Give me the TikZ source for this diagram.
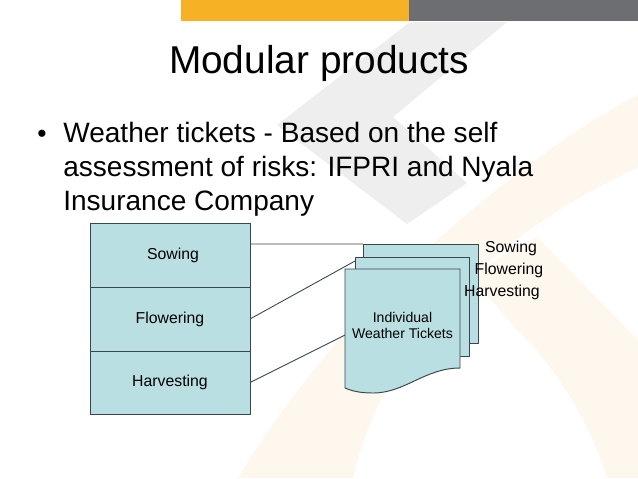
\documentclass[tikz,border=0pt]{standalone}
\usepackage{fontspec}
\usepackage{xcolor}
\setmainfont{Liberation Sans}
\definecolor{baramber}{HTML}{F7B124}
\definecolor{bargrey}{HTML}{6D6E71}
\definecolor{wmgrey}{HTML}{EEEEEE}
\definecolor{wmorange}{HTML}{FEF7EE}
\definecolor{boxfill}{HTML}{B9DFE3}
\definecolor{boxline}{HTML}{37474B}
\tikzset{
  boxstyle/.style={draw=boxline, fill=boxfill, line width=0.55pt, inner sep=0pt, outer sep=0pt},
  stagelabel/.style={inner sep=0pt, font=\fontsize{9}{11}\selectfont},
  link/.style={boxline, line width=0.5pt}
}

\begin{document}
\begin{tikzpicture}[x=0.02cm,y=-0.02cm]
\useasboundingbox (0,0) rectangle (638,478);
\fill[white] (0,0) rectangle (638,478);
% background shapes
\fill[wmgrey] (410,22) -- (507,22) -- (393,117) -- (467,183) -- (407,224) -- (277,125) -- cycle;
\fill[wmorange] (638,95) .. controls (540,145) and (350,290) .. (238,478) -- (353,478) .. controls (375,380) and (450,255) .. (638,167) -- cycle;
\fill[wmorange] (537,237) -- (638,340) -- (638,478) -- (607,478) .. controls (590,420) and (550,360) .. (517,330) -- (470,275) -- cycle;
\fill[baramber] (181,0) rectangle (409,21);
\fill[bargrey] (409,0) rectangle (638,21);
% heading and text
\node[inner sep=0pt, font=\fontsize{22.1}{26}\selectfont] (title) at (319,63) {Modular products};
\node[inner sep=0pt, font=\fontsize{15}{19}\selectfont] (bullet) at (42,136) {•};
\node[inner sep=0pt, anchor=north west, align=left, font=\fontsize{15.95}{19.35}\selectfont] (body) at (63,122) {Weather tickets - Based on the self\\assessment of risks: IFPRI and Nyala\\Insurance Company};
% left column
\node[boxstyle, minimum width=3.2cm, minimum height=1.28cm] (sowing) at (170,255) {};
\node[boxstyle, minimum width=3.2cm, minimum height=1.28cm] (flowering) at (170,319) {};
\node[boxstyle, minimum width=3.2cm, minimum height=1.26cm] (harvesting) at (170,382.5) {};
\node[stagelabel] (sowingtext) at (173,255) {Sowing};
\node[stagelabel] (floweringtext) at (170,319) {Flowering};
\node[stagelabel] (harvestingtext) at (170,382) {Harvesting};
% stack of tickets
\node[boxstyle, minimum width=2.3cm, minimum height=1.98cm] (backticket) at (420.5,293.5) {};
\node[boxstyle, minimum width=2.28cm, minimum height=1.98cm] (midticket) at (412,306.5) {};
\draw[boxstyle] (345,269) -- (460,269) -- (460,368) .. controls (425,368) and (405,393) .. (373,393) .. controls (360,393) and (352,391) .. (345,388) -- cycle;
\node[inner sep=0pt, align=center, font=\fontsize{8}{9}\selectfont] (tickets) at (402.5,325.5) {Individual\\Weather Tickets};
\coordinate (sowingout) at (250,244);
\coordinate (midin) at (355,261);
\coordinate (frontin) at (345,335);
\draw[link] (sowingout) -- (backticket.north west);
\draw[link] (flowering.east) -- (midin);
\draw[link] (harvesting.east) -- (frontin);
% labels next to the stack
\node[stagelabel] (sowingside) at (511,248.5) {Sowing};
\node[stagelabel] (floweringside) at (509,270) {Flowering};
\node[stagelabel] (harvestingside) at (502,292) {Harvesting};
\end{tikzpicture}
\end{document}
